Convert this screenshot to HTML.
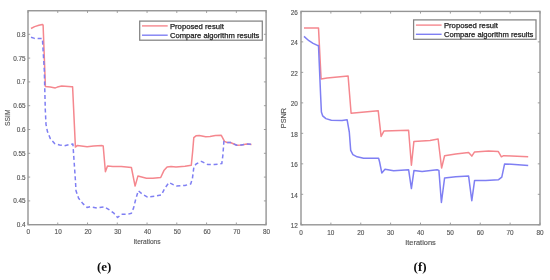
<!DOCTYPE html>
<html><head><meta charset="utf-8"><title>SSIM and PSNR versus iterations</title>
<style>
html,body{margin:0;padding:0;background:#fff;}
body{width:550px;height:280px;overflow:hidden;}
svg{display:block;}
.t{font-family:"Liberation Sans",Arial,sans-serif;fill:#555;stroke:#555;stroke-width:0.14px;}
.c{font-family:"Liberation Serif","Times New Roman",serif;font-weight:bold;fill:#111;}
</style></head><body>
<svg width="550" height="280" viewBox="0 0 550 280">
<defs><filter id="bl" filterUnits="userSpaceOnUse" x="0" y="0" width="550" height="280"><feGaussianBlur stdDeviation="0.45"/></filter></defs>
<rect width="550" height="280" fill="#fff"/>
<g filter="url(#bl)">
<path d="M28 224.7v-2.2M28 10.75v2.2M57.76 224.7v-2.2M57.76 10.75v2.2M87.53 224.7v-2.2M87.53 10.75v2.2M117.29 224.7v-2.2M117.29 10.75v2.2M147.05 224.7v-2.2M147.05 10.75v2.2M176.81 224.7v-2.2M176.81 10.75v2.2M206.58 224.7v-2.2M206.58 10.75v2.2M236.34 224.7v-2.2M236.34 10.75v2.2M266.1 224.7v-2.2M266.1 10.75v2.2M28 224.7h2.2M266.1 224.7h-2.2M28 200.9h2.2M266.1 200.9h-2.2M28 177.1h2.2M266.1 177.1h-2.2M28 153.3h2.2M266.1 153.3h-2.2M28 129.5h2.2M266.1 129.5h-2.2M28 105.7h2.2M266.1 105.7h-2.2M28 81.9h2.2M266.1 81.9h-2.2M28 58.1h2.2M266.1 58.1h-2.2M28 34.3h2.2M266.1 34.3h-2.2M28 10.5h2.2M266.1 10.5h-2.2" stroke="#959595" stroke-width="0.9" fill="none"/>
<rect x="28" y="10.75" width="238.1" height="213.95" fill="none" stroke="#959595" stroke-width="1.4"/>
<text class="t" x="28.4" y="234.1" font-size="6.4" text-anchor="middle">0</text>
<text class="t" x="58.16" y="234.1" font-size="6.4" text-anchor="middle">10</text>
<text class="t" x="87.93" y="234.1" font-size="6.4" text-anchor="middle">20</text>
<text class="t" x="117.69" y="234.1" font-size="6.4" text-anchor="middle">30</text>
<text class="t" x="147.45" y="234.1" font-size="6.4" text-anchor="middle">40</text>
<text class="t" x="177.21" y="234.1" font-size="6.4" text-anchor="middle">50</text>
<text class="t" x="206.98" y="234.1" font-size="6.4" text-anchor="middle">60</text>
<text class="t" x="236.74" y="234.1" font-size="6.4" text-anchor="middle">70</text>
<text class="t" x="266.5" y="234.1" font-size="6.4" text-anchor="middle">80</text>
<text class="t" x="25.6" y="227.1" font-size="6.4" text-anchor="end">0.4</text>
<text class="t" x="25.6" y="203.3" font-size="6.4" text-anchor="end">0.45</text>
<text class="t" x="25.6" y="179.5" font-size="6.4" text-anchor="end">0.5</text>
<text class="t" x="25.6" y="155.7" font-size="6.4" text-anchor="end">0.55</text>
<text class="t" x="25.6" y="131.9" font-size="6.4" text-anchor="end">0.6</text>
<text class="t" x="25.6" y="108.1" font-size="6.4" text-anchor="end">0.65</text>
<text class="t" x="25.6" y="84.3" font-size="6.4" text-anchor="end">0.7</text>
<text class="t" x="25.6" y="60.5" font-size="6.4" text-anchor="end">0.75</text>
<text class="t" x="25.6" y="36.7" font-size="6.4" text-anchor="end">0.8</text>
<text class="t" x="147.05" y="243.6" font-size="6.6" text-anchor="middle" textLength="27" lengthAdjust="spacingAndGlyphs">Iterations</text>
<text class="t" font-size="7" text-anchor="middle" transform="translate(10.2 117.72) rotate(-90)" textLength="16.4" lengthAdjust="spacingAndGlyphs">SSIM</text>
<path d="M301 224.8v-2.2M301 11.4v2.2M330.88 224.8v-2.2M330.88 11.4v2.2M360.75 224.8v-2.2M360.75 11.4v2.2M390.62 224.8v-2.2M390.62 11.4v2.2M420.5 224.8v-2.2M420.5 11.4v2.2M450.38 224.8v-2.2M450.38 11.4v2.2M480.25 224.8v-2.2M480.25 11.4v2.2M510.12 224.8v-2.2M510.12 11.4v2.2M540 224.8v-2.2M540 11.4v2.2M301 224.8h2.2M540 224.8h-2.2M301 194.31h2.2M540 194.31h-2.2M301 163.83h2.2M540 163.83h-2.2M301 133.34h2.2M540 133.34h-2.2M301 102.86h2.2M540 102.86h-2.2M301 72.37h2.2M540 72.37h-2.2M301 41.89h2.2M540 41.89h-2.2M301 11.4h2.2M540 11.4h-2.2" stroke="#959595" stroke-width="0.9" fill="none"/>
<rect x="301" y="11.4" width="239" height="213.4" fill="none" stroke="#959595" stroke-width="1.4"/>
<text class="t" x="301" y="234.7" font-size="6.4" text-anchor="middle">0</text>
<text class="t" x="330.88" y="234.7" font-size="6.4" text-anchor="middle">10</text>
<text class="t" x="360.75" y="234.7" font-size="6.4" text-anchor="middle">20</text>
<text class="t" x="390.62" y="234.7" font-size="6.4" text-anchor="middle">30</text>
<text class="t" x="420.5" y="234.7" font-size="6.4" text-anchor="middle">40</text>
<text class="t" x="450.38" y="234.7" font-size="6.4" text-anchor="middle">50</text>
<text class="t" x="480.25" y="234.7" font-size="6.4" text-anchor="middle">60</text>
<text class="t" x="510.12" y="234.7" font-size="6.4" text-anchor="middle">70</text>
<text class="t" x="540" y="234.7" font-size="6.4" text-anchor="middle">80</text>
<text class="t" x="297.8" y="228.1" font-size="6.4" text-anchor="end">12</text>
<text class="t" x="297.8" y="197.61" font-size="6.4" text-anchor="end">14</text>
<text class="t" x="297.8" y="167.13" font-size="6.4" text-anchor="end">16</text>
<text class="t" x="297.8" y="136.64" font-size="6.4" text-anchor="end">18</text>
<text class="t" x="297.8" y="106.16" font-size="6.4" text-anchor="end">20</text>
<text class="t" x="297.8" y="75.67" font-size="6.4" text-anchor="end">22</text>
<text class="t" x="297.8" y="45.19" font-size="6.4" text-anchor="end">24</text>
<text class="t" x="297.8" y="14.7" font-size="6.4" text-anchor="end">26</text>
<text class="t" x="420.5" y="245" font-size="7.5" text-anchor="middle" textLength="30.6" lengthAdjust="spacingAndGlyphs">Iterations</text>
<text class="t" font-size="7.4" text-anchor="middle" transform="translate(285.8 118.1) rotate(-90)" textLength="20.2" lengthAdjust="spacingAndGlyphs">PSNR</text>
<g fill="none" stroke-linejoin="round" stroke-linecap="butt">
<polyline points="31,28.5 34.6,26.6 38.9,25.3 42.3,24.4 43.1,25 45.4,86.4 50.3,87.1 55.3,87.9 57.4,87.1 61.7,86.1 71.7,86.7 72.6,86.7 75.4,147.1 77.5,145.4 87.1,146.7 93.6,146.1 102.1,145.6 103.2,146 105.4,171.8 107.5,166 112.9,166.4 121.4,166.4 131.4,167.5 135.1,186.1 137.9,176.1 146.4,178.2 152.9,178.2 160.7,177.5 163.9,170.6 167.1,167 171.1,166.6 176,167 185,166.2 191.3,165.2 192.6,152 193.8,137.6 196,135.8 199.3,135.4 205.7,136.7 210,136.4 215.4,135.4 221.3,135.3 224.5,141.4 227.1,142.5 230.4,142.5 236.8,145.2 241.4,145 246.7,144.1 251.5,144.4" stroke="#f5878e" stroke-width="1.5"/>
<polyline points="31,37.3 34.6,38.4 38.9,38.6 42.4,38.6 44.3,70 45.3,110 46,124.3 47.4,131.4 50.3,138.6 54.6,143.6 59.6,145 64.6,145.7 70.3,144.3 72.9,144 75.4,180 76,190.7 78.6,198.2 82.9,203.6 87.1,207.4 90.4,206.8 96.8,207.9 104.3,206.8 109.6,210 113.9,213.2 117.6,217.5 121.4,214.3 127.9,214.3 131.4,213.2 133.6,207.9 135.7,199.3 138.3,190.7 142.1,193.9 147.5,197.1 155,196.1 161.4,195 164.6,188.6 168.9,182.6 173.2,184.6 176.4,186 180.7,185.7 185,185.4 190.7,183.9 192.4,178.6 193.9,166.8 196.1,164 201.4,161.4 207.9,164.6 214.3,164.6 221.8,163.6 222.9,155 223.9,141.4 227.1,142.5 230.4,142.5 236.8,145.2 241.4,145 246.7,144.1 251.5,144.4" stroke="#7f7ff3" stroke-width="1.5" stroke-dasharray="4 2.8"/>
<polyline points="304,27.9 318.5,27.9 321.1,79 327.1,78.1 348.1,76 351.1,113.3 378.2,110.7 381.1,136.4 383.9,131.1 408.6,130.3 411.4,165.2 413.9,141.4 430,140.4 438.1,139 441.6,168 444.6,155.7 455.7,154 468.6,152.5 471.8,156.1 474.6,151.9 488.6,151 498.2,151.4 501.4,156.8 503.6,155.7 528.2,156.8" stroke="#f5878e" stroke-width="1.5"/>
<polyline points="304,36.4 308.9,40.7 313.1,43.3 317.4,45.4 318.5,45.6 320.6,95 321.4,112.1 322.7,115.9 325.9,118.6 331.3,120.2 342,120.4 347.1,119.7 349.3,132 350.7,150.4 352.9,154.6 357.1,156.8 363.6,158.3 378.6,158.3 379.6,162 381.8,172.9 385,169.2 393.6,170.8 408.6,169.7 411.4,188.6 414,170.4 422.1,171.4 437.1,169.7 438.9,170.4 441.4,202.5 444.6,177.9 455.7,176.7 468.6,176.1 471.8,200.7 474.6,180.4 485.7,180.4 498.6,179.7 501.8,177.1 504.6,163.9 511.4,164.3 528.2,165.4" stroke="#7f7ff3" stroke-width="1.5"/>
</g>
<rect x="139.7" y="21.1" width="122.6" height="19.1" fill="#fff" stroke="#838383" stroke-width="1.25"/>
<path d="M142 25.9h25.7" stroke="#f5878e" stroke-width="1.4"/>
<path d="M142 35.2h25.7" stroke="#7f7ff3" stroke-width="1.4"/>
<text class="t" x="169.9" y="28.7" font-size="7.3" textLength="54" lengthAdjust="spacingAndGlyphs" style="fill:#222;stroke:#222;stroke-width:0.25px">Proposed result</text>
<text class="t" x="169.9" y="37.7" font-size="7.3" textLength="89.5" lengthAdjust="spacingAndGlyphs" style="fill:#222;stroke:#222;stroke-width:0.25px">Compare algorithm results</text>
<rect x="413.6" y="19.9" width="122.4" height="19.4" fill="#fff" stroke="#838383" stroke-width="1.25"/>
<path d="M415.9 25.1h25.7" stroke="#f5878e" stroke-width="1.4"/>
<path d="M415.9 34.3h25.7" stroke="#7f7ff3" stroke-width="1.4"/>
<text class="t" x="443.9" y="28.3" font-size="7.3" textLength="54" lengthAdjust="spacingAndGlyphs" style="fill:#222;stroke:#222;stroke-width:0.25px">Proposed result</text>
<text class="t" x="443.9" y="37.4" font-size="7.3" textLength="89.5" lengthAdjust="spacingAndGlyphs" style="fill:#222;stroke:#222;stroke-width:0.25px">Compare algorithm results</text>
<text class="c" x="104.1" y="271.3" font-size="13" text-anchor="middle">(e)</text>
<text class="c" x="420.1" y="271.0" font-size="13" text-anchor="middle">(f)</text>
</g>
</svg>
</body></html>
